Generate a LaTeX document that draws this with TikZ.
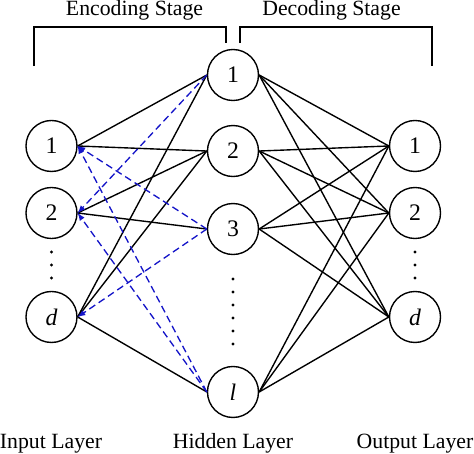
\documentclass[tikz,border=0pt]{standalone}
\usepackage{fontspec}
\setmainfont{Liberation Serif}
\definecolor{linkblue}{RGB}{20,20,200}

\begin{document}
\begin{tikzpicture}[
	neuron/.style={circle, draw, line width=1.05pt, minimum size=1.36cm, inner sep=0pt, font=\fontsize{18}{21}\selectfont},
	link/.style={line width=1.05pt},
	decodelink/.style={linkblue, line width=1pt, dash pattern=on 0.19cm off 0.11cm, -latex},
	caption/.style={anchor=base, font=\fontsize{16.5}{20}\selectfont}
	]
				\useasboundingbox (0, 0) rectangle (12.64, 12.08);
				% Neurons:
				\node[neuron] (in1) at (1.373, 8.187){1};
				\node[neuron] (in2) at (1.373, 6.4){2};
				\node[neuron] (ind) at (1.373, 3.627){\textit{d}};
				\node[neuron] (hid1) at (6.213, 10.08){1};
				\node[neuron] (hid2) at (6.213, 8.053){2};
				\node[neuron] (hid3) at (6.213, 5.973){3};
				\node[neuron] (hidl) at (6.213, 1.627){\textit{l}};
				\node[neuron] (out1) at (11.067, 8.187){1};
				\node[neuron] (out2) at (11.067, 6.4){2};
				\node[neuron] (outd) at (11.067, 3.627){\textit{d}};
				% Dots:
				\fill (1.373, 5.36) circle (0.045) (1.373, 5.013) circle (0.045) (1.373, 4.667) circle (0.045);
				\fill (11.067, 5.36) circle (0.045) (11.067, 5.013) circle (0.045) (11.067, 4.667) circle (0.045);
				\fill (6.213, 4.64) circle (0.045) (6.213, 4.293) circle (0.045) (6.213, 3.947) circle (0.045);
				\fill (6.213, 3.6) circle (0.045) (6.213, 3.253) circle (0.045) (6.213, 2.907) circle (0.045);
				% Encoding wires:
				\draw[link] (in1.east) -- (hid1.west);
				\draw[link] (in1.east) -- (hid2.west);
				\draw[link] (in2.east) -- (hid2.west);
				\draw[link] (in2.east) -- (hid3.west);
				\draw[link] (ind.east) -- (hid1.west);
				\draw[link] (ind.east) -- (hid2.west);
				\draw[link] (ind.east) -- (hidl.west);
				\draw[decodelink] (hid3.west) -- (in1.east);
				\draw[decodelink] (hidl.west) -- (in1.east);
				\draw[decodelink] (hid1.west) -- (in2.east);
				\draw[decodelink] (hidl.west) -- (in2.east);
				\draw[decodelink] (hid3.west) -- (ind.east);
				% Decoding wires:
				\draw[link] (hid1.east) -- (out1.west);
				\draw[link] (hid1.east) -- (out2.west);
				\draw[link] (hid1.east) -- (outd.west);
				\draw[link] (hid2.east) -- (out1.west);
				\draw[link] (hid2.east) -- (out2.west);
				\draw[link] (hid2.east) -- (outd.west);
				\draw[link] (hid3.east) -- (out1.west);
				\draw[link] (hid3.east) -- (out2.west);
				\draw[link] (hid3.east) -- (outd.west);
				\draw[link] (hidl.east) -- (out1.west);
				\draw[link] (hidl.east) -- (out2.west);
				\draw[link] (hidl.east) -- (outd.west);
				% Brackets and labels:
				\draw[link] (0.907, 10.32) |- (6.027, 11.36) -- (6.027, 10.933);
				\draw[link] (6.4, 10.933) |- (11.52, 11.36) -- (11.52, 10.32);
				\node[caption] (enc) at (3.587, 11.66){Encoding Stage};
				\node[caption] (dec) at (8.84, 11.66){Decoding Stage};
				\node[caption] (inlayer) at (1.36, 0.133){Input Layer};
				\node[caption] (hidlayer) at (6.213, 0.133){Hidden Layer};
				\node[caption] (outlayer) at (11.067, 0.133){Output Layer};
			\end{tikzpicture}
\end{document}
